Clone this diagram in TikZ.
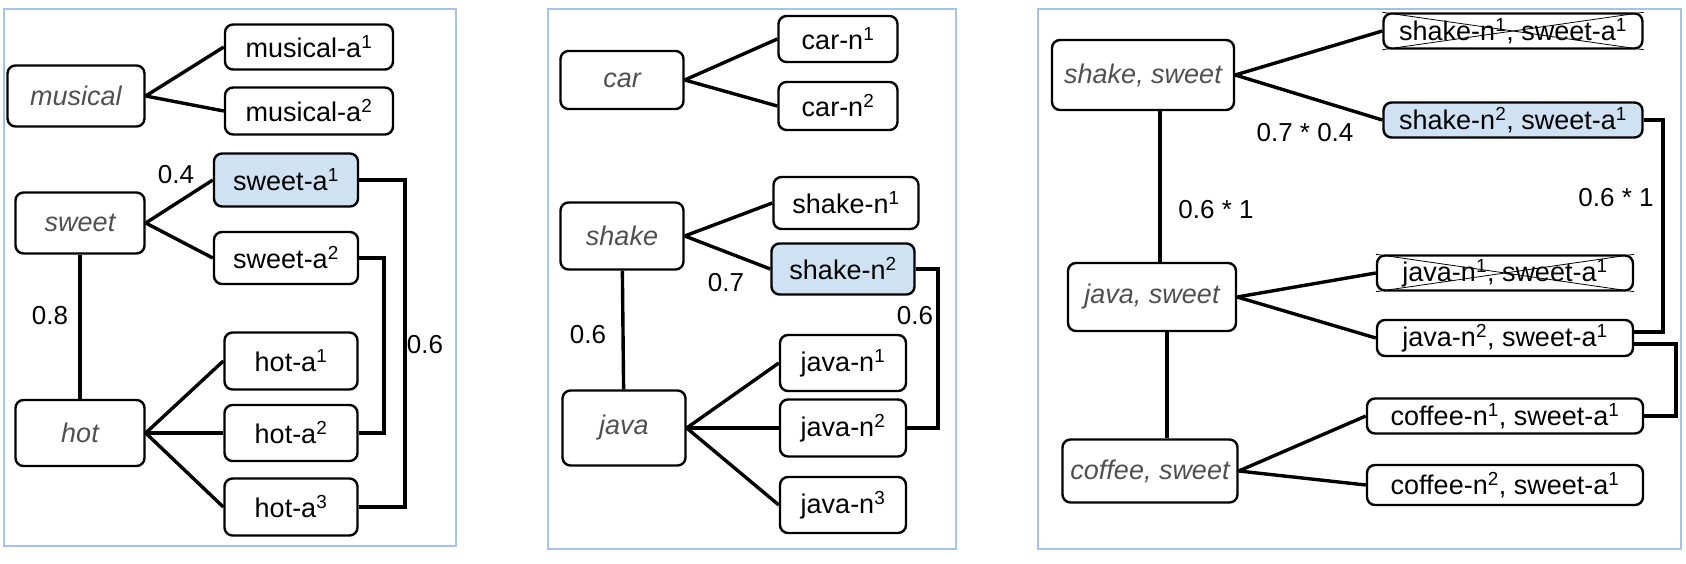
\documentclass[tikz,border=0pt]{standalone}
\usepackage{fontspec}
\setmainfont{Liberation Sans}
\newcommand\su[1]{\textsuperscript{#1}}
\begin{document}
\begin{tikzpicture}[x=1pt,y=-1pt,
  panel/.style={draw={rgb,255:red,164;green,194;blue,240},line width=2.5pt},
  box/.style={draw,line width=2.4pt,rounded corners=8pt,inner sep=0pt,font=\fontsize{27}{29}\selectfont},
  par/.style={box,font=\fontsize{27}{29}\selectfont\itshape,text={rgb,255:red,80;green,80;blue,80}},
  sel/.style={fill={rgb,255:red,207;green,226;blue,243}},
  lk/.style={line width=3.4pt},
  lab/.style={font=\fontsize{26}{28}\selectfont},
  cross/.style={line width=0.8pt}]
\useasboundingbox (0,0) rectangle (1686,564);
\draw[panel] (4,9) rectangle (456,546);
\draw[panel] (548,9) rectangle (956,549);
\draw[panel] (1038,9) rectangle (1681,549);
% panel 1
\node[par,minimum width=137pt,minimum height=61pt] (mu) at (76,96) {musical};
\node[box,minimum width=168pt,minimum height=45pt] (mu1) at (309,47) {musical-a\su{1}};
\node[box,minimum width=168pt,minimum height=47pt] (mu2) at (309,111) {musical-a\su{2}};
\node[par,minimum width=129pt,minimum height=61pt] (sw) at (80,223) {sweet};
\node[box,sel,minimum width=144pt,minimum height=53pt] (sw1) at (286,180) {sweet-a\su{1}};
\node[box,minimum width=144pt,minimum height=52pt] (sw2) at (286,258) {sweet-a\su{2}};
\node[par,minimum width=129pt,minimum height=66pt] (ho) at (80,433) {hot};
\node[box,minimum width=133pt,minimum height=57pt] (ho1) at (291,361) {hot-a\su{1}};
\node[box,minimum width=133pt,minimum height=56pt] (ho2) at (291,433) {hot-a\su{2}};
\node[box,minimum width=133pt,minimum height=57pt] (ho3) at (291,507) {hot-a\su{3}};
\draw[lk] (mu.east) -- (mu1.west); \draw[lk] (mu.east) -- (mu2.west);
\draw[lk] (sw.east) -- (sw1.west); \draw[lk] (sw.east) -- (sw2.west);
\draw[lk] (ho.east) -- (ho1.west); \draw[lk] (ho.east) -- (ho2.west); \draw[lk] (ho.east) -- (ho3.west);
\draw[lk] (sw) -- (ho);
\coordinate (b1) at (405,0); \coordinate (b2) at (384,0);
\draw[lk] (sw1.east) -- (sw1.east -| b1) |- (ho3.east);
\draw[lk] (sw2.east) -- (sw2.east -| b2) |- (ho2.east);
\node[lab] (l1) at (176,175) {0.4};
\node[lab] (l2) at (50,316) {0.8};
\node[lab] (l3) at (425,345) {0.6};
% panel 2
\node[par,minimum width=123pt,minimum height=58pt] (ca) at (622,80) {car};
\node[box,minimum width=119pt,minimum height=46pt] (ca1) at (838,39) {car-n\su{1}};
\node[box,minimum width=119pt,minimum height=48pt] (ca2) at (838,106) {car-n\su{2}};
\node[par,minimum width=123pt,minimum height=67pt] (sh) at (622,236) {shake};
\node[box,minimum width=145pt,minimum height=52pt] (sh1) at (846,203) {shake-n\su{1}};
\node[box,sel,minimum width=143pt,minimum height=51pt] (sh2) at (843,269) {shake-n\su{2}};
\node[par,minimum width=123pt,minimum height=75pt] (ja) at (624,428) {java};
\node[box,minimum width=126pt,minimum height=56pt] (ja1) at (843,363) {java-n\su{1}};
\node[box,minimum width=126pt,minimum height=57pt] (ja2) at (843,428) {java-n\su{2}};
\node[box,minimum width=126pt,minimum height=56pt] (ja3) at (843,505) {java-n\su{3}};
\draw[lk] (ca.east) -- (ca1.west); \draw[lk] (ca.east) -- (ca2.west);
\draw[lk] (sh.east) -- (sh1.west); \draw[lk] (sh.east) -- (sh2.west);
\draw[lk] (ja.east) -- (ja1.west); \draw[lk] (ja.east) -- (ja2.west); \draw[lk] (ja.east) -- (ja3.west);
\draw[lk] (sh) -- (ja);
\coordinate (b3) at (938,0);
\draw[lk] (sh2.east) -- (sh2.east -| b3) |- (ja2.east);
\node[lab] (l4) at (726,283) {0.7};
\node[lab] (l5) at (588,335) {0.6};
\node[lab] (l6) at (915,316) {0.6};
% panel 3
\node[par,minimum width=182pt,minimum height=70pt] (ss) at (1143,75) {shake, sweet};
\node[box,minimum width=259pt,minimum height=35pt] (x1) at (1513,31) {shake-n\su{1}, sweet-a\su{1}};
\draw[cross] (x1.north west) -- (x1.south east); \draw[cross] (x1.south west) -- (x1.north east);
\node[box,sel,minimum width=259pt,minimum height=35pt] (s2) at (1513,120) {shake-n\su{2}, sweet-a\su{1}};
\node[par,minimum width=168pt,minimum height=68pt] (js) at (1152,297) {java, sweet};
\node[box,minimum width=256pt,minimum height=35pt] (x2) at (1505,273) {java-n\su{1}, sweet-a\su{1}};
\draw[cross] (x2.north west) -- (x2.south east); \draw[cross] (x2.south west) -- (x2.north east);
\node[box,minimum width=256pt,minimum height=36pt] (j2) at (1505,338) {java-n\su{2}, sweet-a\su{1}};
\node[par,minimum width=175pt,minimum height=63pt] (cs) at (1150,471) {coffee, sweet};
\node[box,minimum width=276pt,minimum height=35pt] (c1) at (1505,416) {coffee-n\su{1}, sweet-a\su{1}};
\node[box,minimum width=276pt,minimum height=40pt] (c2) at (1505,485) {coffee-n\su{2}, sweet-a\su{1}};
\draw[lk] (ss.east) -- (x1.west); \draw[lk] (ss.east) -- (s2.west);
\draw[lk] (js.east) -- (x2.west); \draw[lk] (js.east) -- (j2.west);
\draw[lk] (cs.east) -- (c1.west); \draw[lk] (cs.east) -- (c2.west);
\coordinate (v1) at (1160,0); \coordinate (v2) at (1167,0);
\draw[lk] (ss.south -| v1) -- (js.north -| v1);
\draw[lk] (js.south -| v2) -- (cs.north -| v2);
\coordinate (b4) at (1663,0); \coordinate (b5) at (1676,0);
\draw[lk] (s2.east) -- (s2.east -| b4) |- ([yshift=6pt]j2.east);
\draw[lk] ([yshift=-6pt]j2.east) -- ([yshift=-6pt]j2.east -| b5) |- (c1.east);
\node[lab] (l7) at (1305,133) {0.7 * 0.4};
\node[lab] (l8) at (1216,210) {0.6 * 1};
\node[lab] (l9) at (1616,198) {0.6 * 1};
\end{tikzpicture}
\end{document}
